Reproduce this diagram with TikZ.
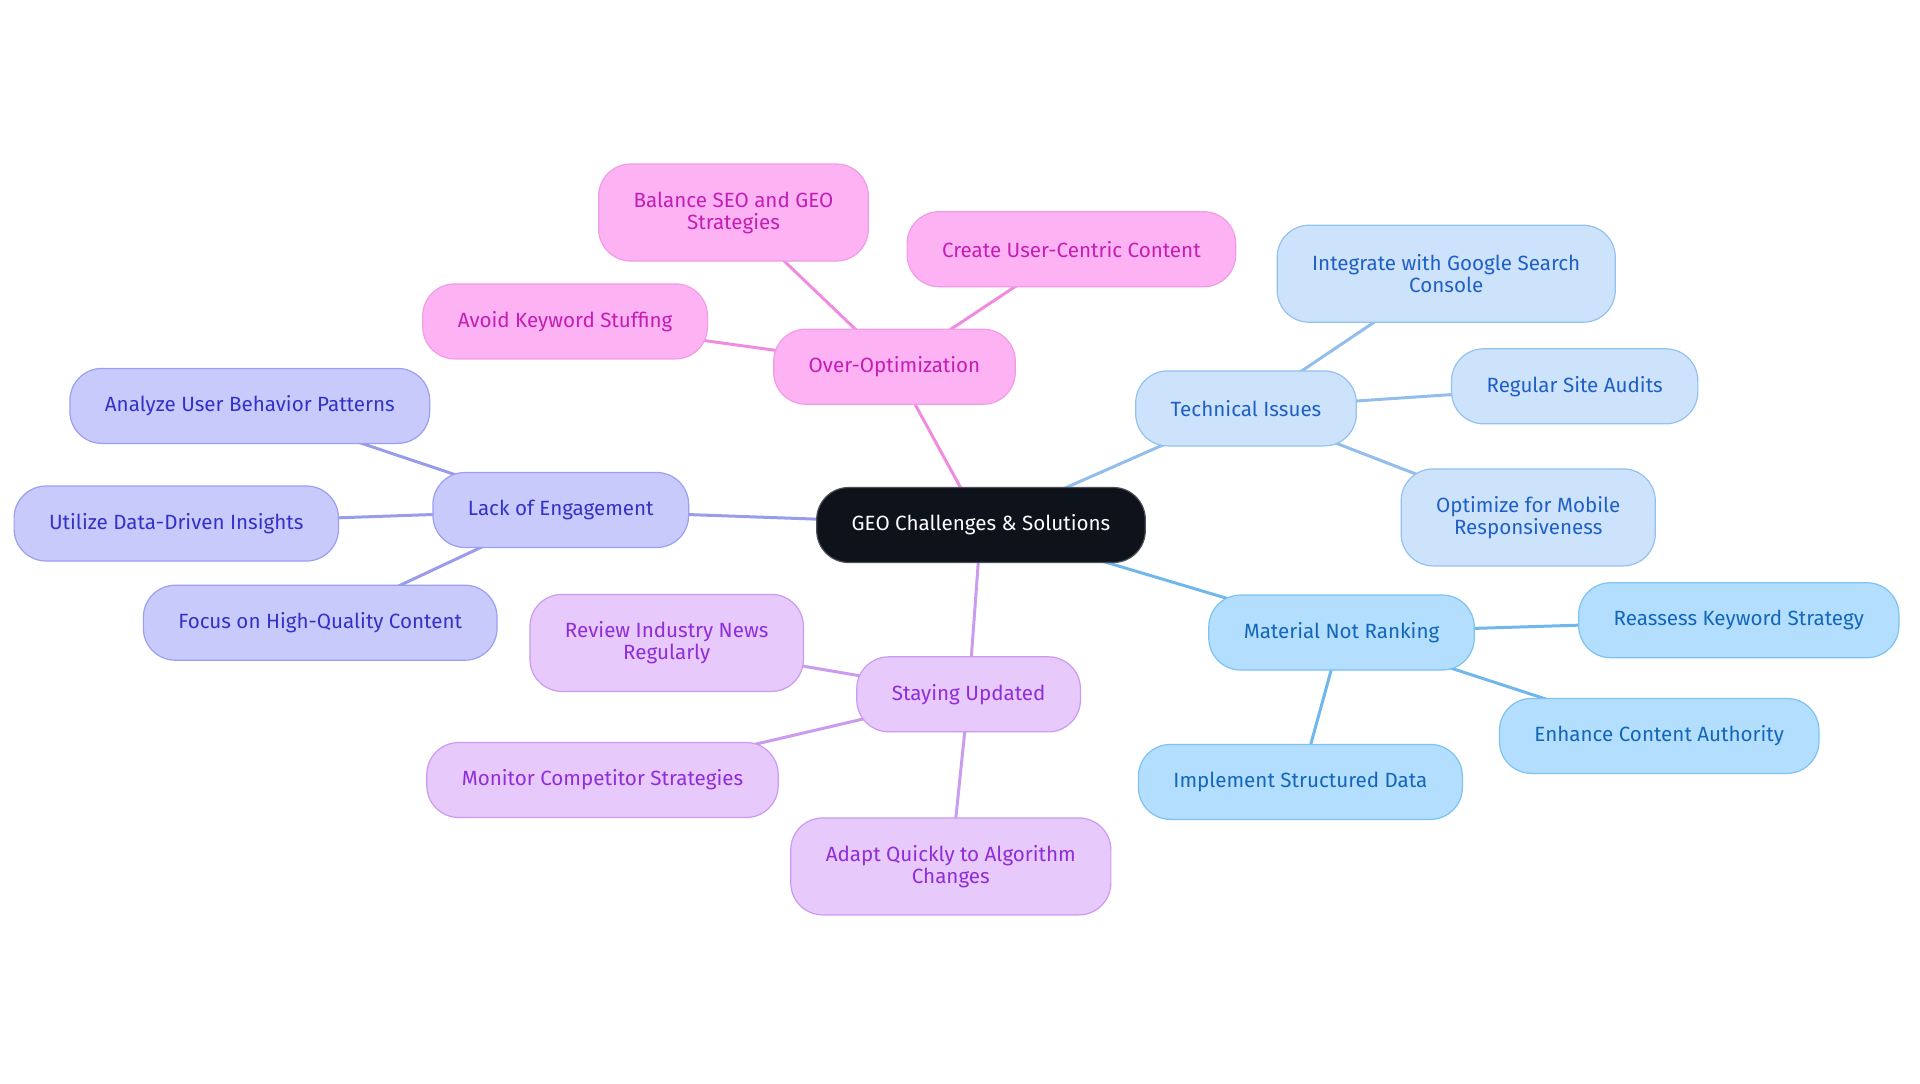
\documentclass[tikz,border=0pt]{standalone}
\usepackage{fontspec}
\setmainfont{Fira Sans}
\usetikzlibrary{backgrounds}

\definecolor{rootfill}{HTML}{0D121B}
\definecolor{rootdraw}{HTML}{4A4F57}
\definecolor{pinkfill}{HTML}{FDB3F3}
\definecolor{pinkdraw}{HTML}{F29BE6}
\definecolor{pinktext}{HTML}{C41DB4}
\definecolor{pinkedge}{HTML}{F08CE0}
\definecolor{techfill}{HTML}{CDE3FB}
\definecolor{techdraw}{HTML}{93C1F0}
\definecolor{techtext}{HTML}{1F5FC6}
\definecolor{techedge}{HTML}{93BEEC}
\definecolor{rankfill}{HTML}{B3DEFD}
\definecolor{rankdraw}{HTML}{7EC2F1}
\definecolor{ranktext}{HTML}{1466B9}
\definecolor{rankedge}{HTML}{70B7EE}
\definecolor{lackfill}{HTML}{C8CAFC}
\definecolor{lackdraw}{HTML}{9B9FF0}
\definecolor{lacktext}{HTML}{3332C6}
\definecolor{lackedge}{HTML}{9A9CEB}
\definecolor{stayfill}{HTML}{E7C9FC}
\definecolor{staydraw}{HTML}{CC9AF1}
\definecolor{staytext}{HTML}{8F2DD9}
\definecolor{stayedge}{HTML}{C99CEF}

\tikzset{
  topic/.style={rounded corners=16pt, line width=0.6pt, inner xsep=17.5pt,
    minimum height=37.5pt, align=center, font=\fontsize{10.3}{11}\selectfont},
  rootbox/.style={topic, fill=rootfill, draw=rootdraw, text=white},
  pinkbox/.style={topic, fill=pinkfill, draw=pinkdraw, text=pinktext},
  techbox/.style={topic, fill=techfill, draw=techdraw, text=techtext},
  rankbox/.style={topic, fill=rankfill, draw=rankdraw, text=ranktext},
  lackbox/.style={topic, fill=lackfill, draw=lackdraw, text=lacktext},
  staybox/.style={topic, fill=stayfill, draw=staydraw, text=staytext},
  twoline/.style={minimum height=48.5pt},
  link/.style={line width=1.5pt},
}

\begin{document}
\begin{tikzpicture}[x=0.5pt,y=0.5pt,yscale=-1,xscale=1]
\useasboundingbox (0,0) rectangle (1920,1083);

% Root
\node [rootbox] (root) at (981,525) {GEO Challenges \& Solutions};

% Over-Optimization branch
\node [pinkbox] (over) at (894.5,366.7) {Over-Optimization};
\node [pinkbox,twoline] (balance) at (733.5,212.5) {Balance SEO and GEO\\Strategies};
\node [pinkbox] (usercentric) at (1071.4,249.2) {Create User-Centric Content};
\node [pinkbox] (stuffing) at (565.1,321.4) {Avoid Keyword Stuffing};

% Technical Issues branch
\node [techbox] (tech) at (1246,408.4) {Technical Issues};
\node [techbox,twoline] (console) at (1446.2,273.7) {Integrate with Google Search\\Console};
\node [techbox] (audits) at (1574.7,386.3) {Regular Site Audits};
\node [techbox,twoline] (mobile) at (1528.2,517.4) {Optimize for Mobile\\Responsiveness};

% Material Not Ranking branch
\node [rankbox] (rank) at (1341.5,632.5) {Material Not Ranking};
\node [rankbox] (keyword) at (1738.8,620.2) {Reassess Keyword Strategy};
\node [rankbox] (authority) at (1659.2,735.9) {Enhance Content Authority};
\node [rankbox] (structured) at (1300.4,781.9) {Implement Structured Data};

% Staying Updated branch
\node [staybox] (stay) at (968.6,694.3) {Staying Updated};
\node [staybox,twoline] (news) at (666.7,642.9) {Review Industry News\\Regularly};
\node [staybox] (competitor) at (602.5,780) {Monitor Competitor Strategies};
\node [staybox,twoline] (algorithm) at (950.8,866.4) {Adapt Quickly to Algorithm\\Changes};

% Lack of Engagement branch
\node [lackbox] (lack) at (560.8,510) {Lack of Engagement};
\node [lackbox] (behavior) at (249.8,405.9) {Analyze User Behavior Patterns};
\node [lackbox] (insights) at (176.3,523.5) {Utilize Data-Driven Insights};
\node [lackbox] (quality) at (320.2,622.7) {Focus on High-Quality Content};

% Links, behind the boxes
\begin{scope}[on background layer]
\draw [link,pinkedge] (root.center) -- (over.center);
\draw [link,pinkedge] (over.center) -- (balance.center);
\draw [link,pinkedge] (over.center) -- (usercentric.center);
\draw [link,pinkedge] (over.center) -- (stuffing.center);
\draw [link,techedge] (root.center) -- (tech.center);
\draw [link,techedge] (tech.center) -- (console.center);
\draw [link,techedge] (tech.center) -- (audits.center);
\draw [link,techedge] (tech.center) -- (mobile.center);
\draw [link,rankedge] (root.center) -- (rank.center);
\draw [link,rankedge] (rank.center) -- (keyword.center);
\draw [link,rankedge] (rank.center) -- (authority.center);
\draw [link,rankedge] (rank.center) -- (structured.center);
\draw [link,stayedge] (root.center) -- (stay.center);
\draw [link,stayedge] (stay.center) -- (news.center);
\draw [link,stayedge] (stay.center) -- (competitor.center);
\draw [link,stayedge] (stay.center) -- (algorithm.center);
\draw [link,lackedge] (root.center) -- (lack.center);
\draw [link,lackedge] (lack.center) -- (behavior.center);
\draw [link,lackedge] (lack.center) -- (insights.center);
\draw [link,lackedge] (lack.center) -- (quality.center);
\end{scope}

\end{tikzpicture}
\end{document}
